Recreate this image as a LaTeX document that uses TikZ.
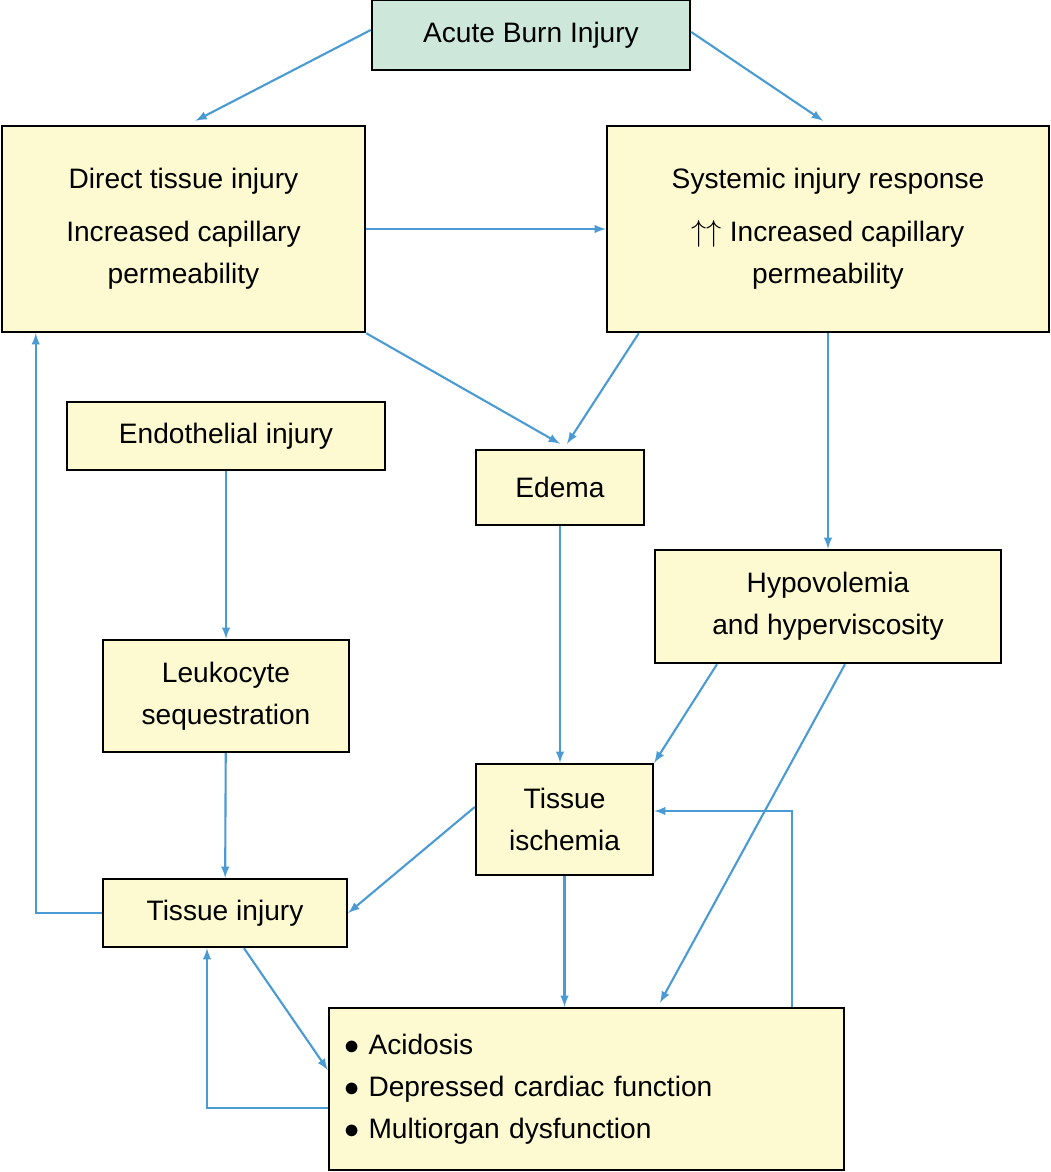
\documentclass[tikz,border=0pt]{standalone}
\usepackage{fontspec}
\setmainfont{Liberation Sans}
\definecolor{boxfill}{HTML}{FDFAD2}
\definecolor{topfill}{HTML}{CDE8DB}
\definecolor{arrowblue}{HTML}{4A9AD4}
\tikzset{
   box/.style={draw=black, line width=1.4pt, fill=boxfill, align=center, inner sep=2pt,
      font=\fontsize{16}{24}\selectfont},
   flow/.style={draw=arrowblue, line width=1.2pt, -latex}
}
\begin{document}
\begin{tikzpicture}
   \useasboundingbox (0, 0) rectangle (21.02, -23.44);
   \node[box, fill=topfill, minimum width=6.36cm, minimum height=1.4cm] (acute) at (10.62, -0.70) {Acute Burn Injury};
   \node[box, minimum width=7.26cm, minimum height=4.12cm] (direct) at (3.67, -4.58)
      {Direct tissue injury\\[6pt] Increased capillary\\permeability};
   \node[box, minimum width=8.84cm, minimum height=4.12cm] (sys) at (16.56, -4.58)
      {Systemic injury response\\[6pt] $\uparrow\uparrow$ Increased capillary\\permeability};
   \node[box, minimum width=6.36cm, minimum height=1.36cm] (endo) at (4.52, -8.72) {Endothelial injury};
   \node[box, minimum width=3.36cm, minimum height=1.5cm] (edema) at (11.20, -9.75) {Edema};
   \node[box, minimum width=6.92cm, minimum height=2.26cm] (hypo) at (16.56, -12.13)
      {Hypovolemia\\and hyperviscosity};
   \node[box, minimum width=4.92cm, minimum height=2.24cm] (leuk) at (4.52, -13.92)
      {Leukocyte\\sequestration};
   \node[box, minimum width=3.54cm, minimum height=2.22cm] (isch) at (11.29, -16.39)
      {Tissue\\ischemia};
   \node[box, minimum width=4.88cm, minimum height=1.36cm] (tinj) at (4.50, -18.26) {Tissue injury};
   \node[box, minimum width=10.3cm, minimum height=3.24cm, align=left, text width=9.7cm] (bottom) at (11.73, -21.78)
      {$\bullet$ Acidosis\\$\bullet$ Depressed cardiac function\\$\bullet$ Multiorgan dysfunction};
   % connectors
   \draw[flow] ([yshift=0.1cm]acute.west) -- ([xshift=0.24cm, yshift=0.08cm]direct.north);
   \draw[flow] ([yshift=0.06cm]acute.east) -- ([xshift=-0.1cm, yshift=0.08cm]sys.north);
   \draw[flow] (direct) -- (sys);
   \draw[flow] (direct.south east) -- ([yshift=0.1cm]edema.north);
   \draw[flow] ([xshift=0.66cm]sys.south west) -- ([xshift=0.14cm, yshift=0.1cm]edema.north);
   \draw[flow] (sys.south) -- (hypo.north);
   \draw[flow] (endo) -- (leuk);
   \draw[flow] (edema.south) -- (edema.south |- isch.north);
   \draw[flow] ([xshift=-2.22cm]hypo.south) -- (isch.north east);
   \draw[flow] ([xshift=0.34cm]hypo.south) -- ([xshift=1.47cm, yshift=0.08cm]bottom.north);
   \draw[flow] (leuk) -- (tinj);
   \draw[flow] ([yshift=0.25cm]isch.west) -- (tinj.east);
   \draw[flow] (isch.south) -- (isch.south |- bottom.north);
   \draw[flow] ([xshift=4.11cm]bottom.north) |- ([yshift=0.17cm]isch.east);
   \draw[flow] (tinj.west) -| ([xshift=0.7cm]direct.south west);
   \draw[flow] ([xshift=0.38cm]tinj.south) -- ([yshift=0.38cm]bottom.west);
   \draw[flow] ([yshift=-0.38cm]bottom.west) -| ([xshift=-0.36cm]tinj.south);
\end{tikzpicture}
\end{document}
